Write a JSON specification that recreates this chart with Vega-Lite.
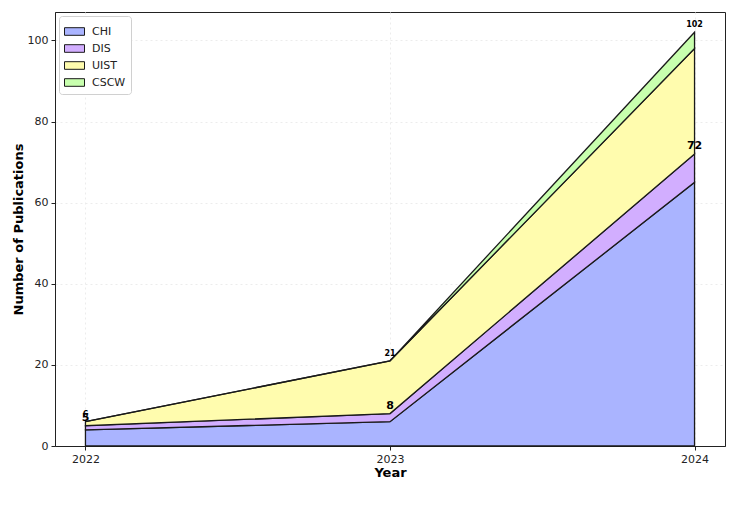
{
  "$schema": "https://vega.github.io/schema/vega-lite/v6.json",
  "autosize": {"type": "none"},
  "width": 670,
  "height": 434,
  "padding": {"left": 55, "top": 12, "right": 10, "bottom": 76},
  "background": "white",
  "data": {
    "values": [
      {"year": 2022, "venue": "CHI", "ord": 1, "count": 4},
      {"year": 2022, "venue": "DIS", "ord": 2, "count": 1},
      {"year": 2022, "venue": "UIST", "ord": 3, "count": 1},
      {"year": 2022, "venue": "CSCW", "ord": 4, "count": 0},
      {"year": 2023, "venue": "CHI", "ord": 1, "count": 6},
      {"year": 2023, "venue": "DIS", "ord": 2, "count": 2},
      {"year": 2023, "venue": "UIST", "ord": 3, "count": 13},
      {"year": 2023, "venue": "CSCW", "ord": 4, "count": 0},
      {"year": 2024, "venue": "CHI", "ord": 1, "count": 65},
      {"year": 2024, "venue": "DIS", "ord": 2, "count": 7},
      {"year": 2024, "venue": "UIST", "ord": 3, "count": 26},
      {"year": 2024, "venue": "CSCW", "ord": 4, "count": 4}
    ]
  },
  "encoding": {
    "x": {
      "field": "year",
      "type": "quantitative",
      "title": "Year",
      "scale": {"domain": [2021.9, 2024.1], "nice": false, "zero": false},
      "axis": {"values": [2022, 2023, 2024], "format": "d", "titlePadding": 2}
    }
  },
  "layer": [
    {
      "mark": {"type": "area", "stroke": "#1a1a1a", "strokeWidth": 1.3, "strokeJoin": "miter"},
      "encoding": {
        "y": {
          "field": "count",
          "type": "quantitative",
          "stack": "zero",
          "title": "Number of Publications",
          "scale": {"domain": [0, 107], "nice": false},
          "axis": {"values": [0, 20, 40, 60, 80, 100], "titlePadding": 2}
        },
        "color": {
          "field": "venue",
          "type": "nominal",
          "sort": ["CHI", "DIS", "UIST", "CSCW"],
          "scale": {
            "domain": ["CHI", "DIS", "UIST", "CSCW"],
            "range": ["#aab4ff", "#d2aeff", "#fffcae", "#c8ffae"]
          },
          "legend": {
            "title": null,
            "orient": "top-left",
            "offset": 4,
            "fillColor": "white",
            "strokeColor": "#d0d0d0",
            "cornerRadius": 3,
            "padding": 5,
            "rowPadding": 0,
            "symbolType": "M-1,-0.38H1V0.38H-1Z",
            "symbolSize": 400,
            "symbolStrokeColor": "#1a1a1a",
            "symbolStrokeWidth": 1,
            "symbolOpacity": 1,
            "labelFontSize": 11,
            "labelOffset": 7
          }
        },
        "order": {"field": "ord", "type": "quantitative"}
      }
    },
    {
      "transform": [
        {"window": [{"op": "sum", "field": "count", "as": "cum"}], "groupby": ["year"], "sort": [{"field": "ord"}]},
        {"filter": "datum.venue == 'DIS'"}
      ],
      "mark": {"type": "text", "fontWeight": "bold", "fontSize": 11, "baseline": "bottom", "dy": -3},
      "encoding": {
        "y": {"field": "cum", "type": "quantitative"},
        "text": {"field": "cum", "type": "quantitative"}
      }
    },
    {
      "transform": [
        {"window": [{"op": "sum", "field": "count", "as": "cum"}], "groupby": ["year"], "sort": [{"field": "ord"}]},
        {"filter": "datum.venue == 'CSCW'"}
      ],
      "mark": {"type": "text", "fontWeight": "bold", "fontSize": 8, "baseline": "bottom", "dy": -3},
      "encoding": {
        "y": {"field": "cum", "type": "quantitative"},
        "text": {"field": "cum", "type": "quantitative"}
      }
    }
  ],
  "config": {
    "font": "DejaVu Sans",
    "view": {"stroke": "#222", "strokeWidth": 1},
    "axis": {
      "labelFont": "DejaVu Sans",
      "labelFontSize": 11,
      "labelColor": "#222",
      "titleFont": "DejaVu Sans",
      "titleFontSize": 13,
      "titleFontWeight": "bold",
      "titleColor": "black",
      "tickColor": "#222",
      "tickSize": 4,
      "domain": true,
      "domainColor": "#222",
      "grid": true,
      "gridColor": "#ececec",
      "gridDash": [2, 3],
      "labelPadding": 3
    },
    "legend": {"labelFont": "DejaVu Sans", "labelColor": "#222"}
  }
}
